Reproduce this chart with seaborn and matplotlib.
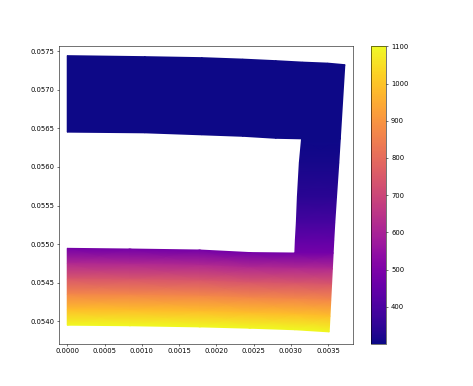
import numpy as np
import matplotlib
matplotlib.use("Agg")
import matplotlib.pyplot as plt
from matplotlib.colors import Normalize
import seaborn as sns

# ---------------- data ----------------
# Top band (cold, uniform)
top_x_upper = [0.0, 0.001042, 0.001806, 0.002356, 0.002798, 0.003160, 0.003495, 0.003724]
top_x_lower = [0.0, 0.001042, 0.001806, 0.002356, 0.002798, 0.003143, 0.003495, 0.003663]
top_y_upper = [0.057444, 0.057431, 0.057418, 0.057399, 0.057379, 0.057360, 0.057347, 0.057327]
top_y_lower = [0.056452, 0.056443, 0.056417, 0.056398, 0.056372, 0.056365, 0.056365, 0.056365]
top_temp = [301, 301]            # upper edge, lower edge

# Right arm
arm_y = [0.056365, 0.056053, 0.055611, 0.055274, 0.055053, 0.054884]
arm_x_inner = [0.003143, 0.003113, 0.003087, 0.003073, 0.003060, 0.003053]
arm_x_outer = [0.003663, 0.003643, 0.003612, 0.003589, 0.003576, 0.003567]
arm_temp = [301, 312, 340, 390, 440, 480]

# Bottom band
bot_x_upper = [0.0, 0.000841, 0.001779, 0.002449, 0.003053, 0.003567]
bot_x_lower = [0.0, 0.000841, 0.001779, 0.002449, 0.003053, 0.003514]
bot_y_upper = [0.054945, 0.054936, 0.054923, 0.054890, 0.054884, 0.054884]
bot_y_lower = [0.053948, 0.053941, 0.053926, 0.053909, 0.053889, 0.053861]
bot_depth = [0.0, 0.2, 0.4, 0.6, 0.8, 1.0]      # fraction across band thickness
bot_temp = [480, 620, 750, 870, 990, 1100]       # upper edge -> lower edge

cbar_ticks = [400, 500, 600, 700, 800, 900, 1000, 1100]
x_limits = (-0.000107, 0.003835)
y_limits = (0.05371, 0.057565)

# ---------------- figure ----------------
dpi = 48.25
fig, ax = plt.subplots(figsize=(474 / dpi, 386 / dpi), dpi=dpi)
cmap = sns.color_palette("plasma", as_cmap=True)
all_t = top_temp + arm_temp + bot_temp
norm = Normalize(vmin=min(all_t), vmax=max(all_t))

# top band mesh
X_top = np.vstack([top_x_upper, top_x_lower])
Y_top = np.vstack([top_y_upper, top_y_lower])
C_top = np.array(top_temp, dtype=float)[:, None] * np.ones(len(top_x_upper))[None, :]
ax.pcolormesh(X_top, Y_top, C_top, shading="gouraud", cmap=cmap, norm=norm)

# arm mesh
X_arm = np.column_stack([arm_x_inner, arm_x_outer])
Y_arm = np.column_stack([arm_y, arm_y])
C_arm = np.column_stack([arm_temp, arm_temp]).astype(float)
ax.pcolormesh(X_arm, Y_arm, C_arm, shading="gouraud", cmap=cmap, norm=norm)

# bottom band mesh
d = np.array(bot_depth)[:, None]
xu, xl = np.array(bot_x_upper)[None, :], np.array(bot_x_lower)[None, :]
yu, yl = np.array(bot_y_upper)[None, :], np.array(bot_y_lower)[None, :]
X_bot = xu + d * (xl - xu)
Y_bot = yu + d * (yl - yu)
C_bot = np.array(bot_temp, dtype=float)[:, None] * np.ones(len(bot_x_upper))[None, :]
m = ax.pcolormesh(X_bot, Y_bot, C_bot, shading="gouraud", cmap=cmap, norm=norm)

ax.set_xlim(*x_limits)
ax.set_ylim(*y_limits)

cbar = fig.colorbar(m, ax=ax)
cbar.set_ticks(cbar_ticks)

fig.savefig("out.png", dpi=dpi)
